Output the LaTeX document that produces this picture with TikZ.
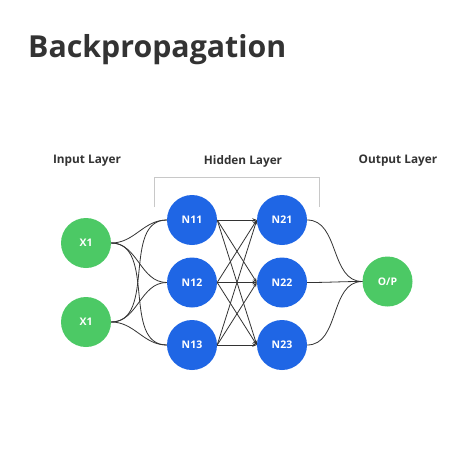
\documentclass[tikz,border=0pt]{standalone}
\usepackage{fontspec}
\setmainfont{Open Sans}
\usetikzlibrary{arrows.meta}
\definecolor{ngreen}{HTML}{4CC965}
\definecolor{nblue}{HTML}{1F66E5}
\definecolor{ink}{HTML}{333333}
\definecolor{brk}{HTML}{C8C8C8}
\tikzset{
  neuron/.style={circle, minimum size=50pt, inner sep=0pt, text=white, font=\bfseries\fontsize{10.5}{12}\selectfont},
  inp/.style={neuron, fill=ngreen},
  hid/.style={neuron, fill=nblue},
  layerlabel/.style={font=\bfseries\fontsize{11.8}{14}\selectfont, text=ink},
  conn/.style={draw=ink, line width=0.8pt},
  arr/.style={conn, -{Stealth[length=4.5pt,width=3.5pt]}}
}
\begin{document}
\begin{tikzpicture}[x=1pt,y=-1pt]
\useasboundingbox (0,0) rectangle (474,474);
\fill[white] (0,0) rectangle (474,474);
\node[anchor=base west, inner sep=0pt, font=\bfseries\fontsize{30.3}{34}\selectfont, text=ink] (title) at (28,57) {Backpropagation};
\node[layerlabel] (lin) at (87,161) {Input Layer};
\node[layerlabel] (lhid) at (243,161) {Hidden Layer};
\node[layerlabel] (lout) at (398,161) {Output Layer};
\coordinate (b1) at (154.5,207);
\coordinate (b2) at (154.5,177.5);
\coordinate (b3) at (319.5,177.5);
\coordinate (b4) at (319.5,207);
\draw[brk, line width=1.2pt] (b1) -- (b2) -- (b3) -- (b4);
\node[inp] (x1) at (86,243) {X1};
\node[inp] (x2) at (86,322) {X1};
\node[hid] (n11) at (192,220) {N11};
\node[hid] (n12) at (192,282.5) {N12};
\node[hid] (n13) at (192,345) {N13};
\node[hid] (n21) at (282,220) {N21};
\node[hid] (n22) at (282,282.5) {N22};
\node[hid] (n23) at (282,345) {N23};
\node[inp] (op) at (387.5,281.5) {O/P};
\foreach \a in {x1,x2}{
  \foreach \b in {n11,n12,n13}{
    \draw[conn] (\a.east) to[out=0,in=180] (\b.west);
  }
}
\foreach \a in {n11,n12,n13}{
  \foreach \b in {n21,n22,n23}{
    \draw[arr] (\a.east) -- (\b.west);
  }
}
\foreach \a in {n21,n22,n23}{
  \draw[conn] (\a.east) to[out=0,in=180] (op.west);
}
\end{tikzpicture}
\end{document}
